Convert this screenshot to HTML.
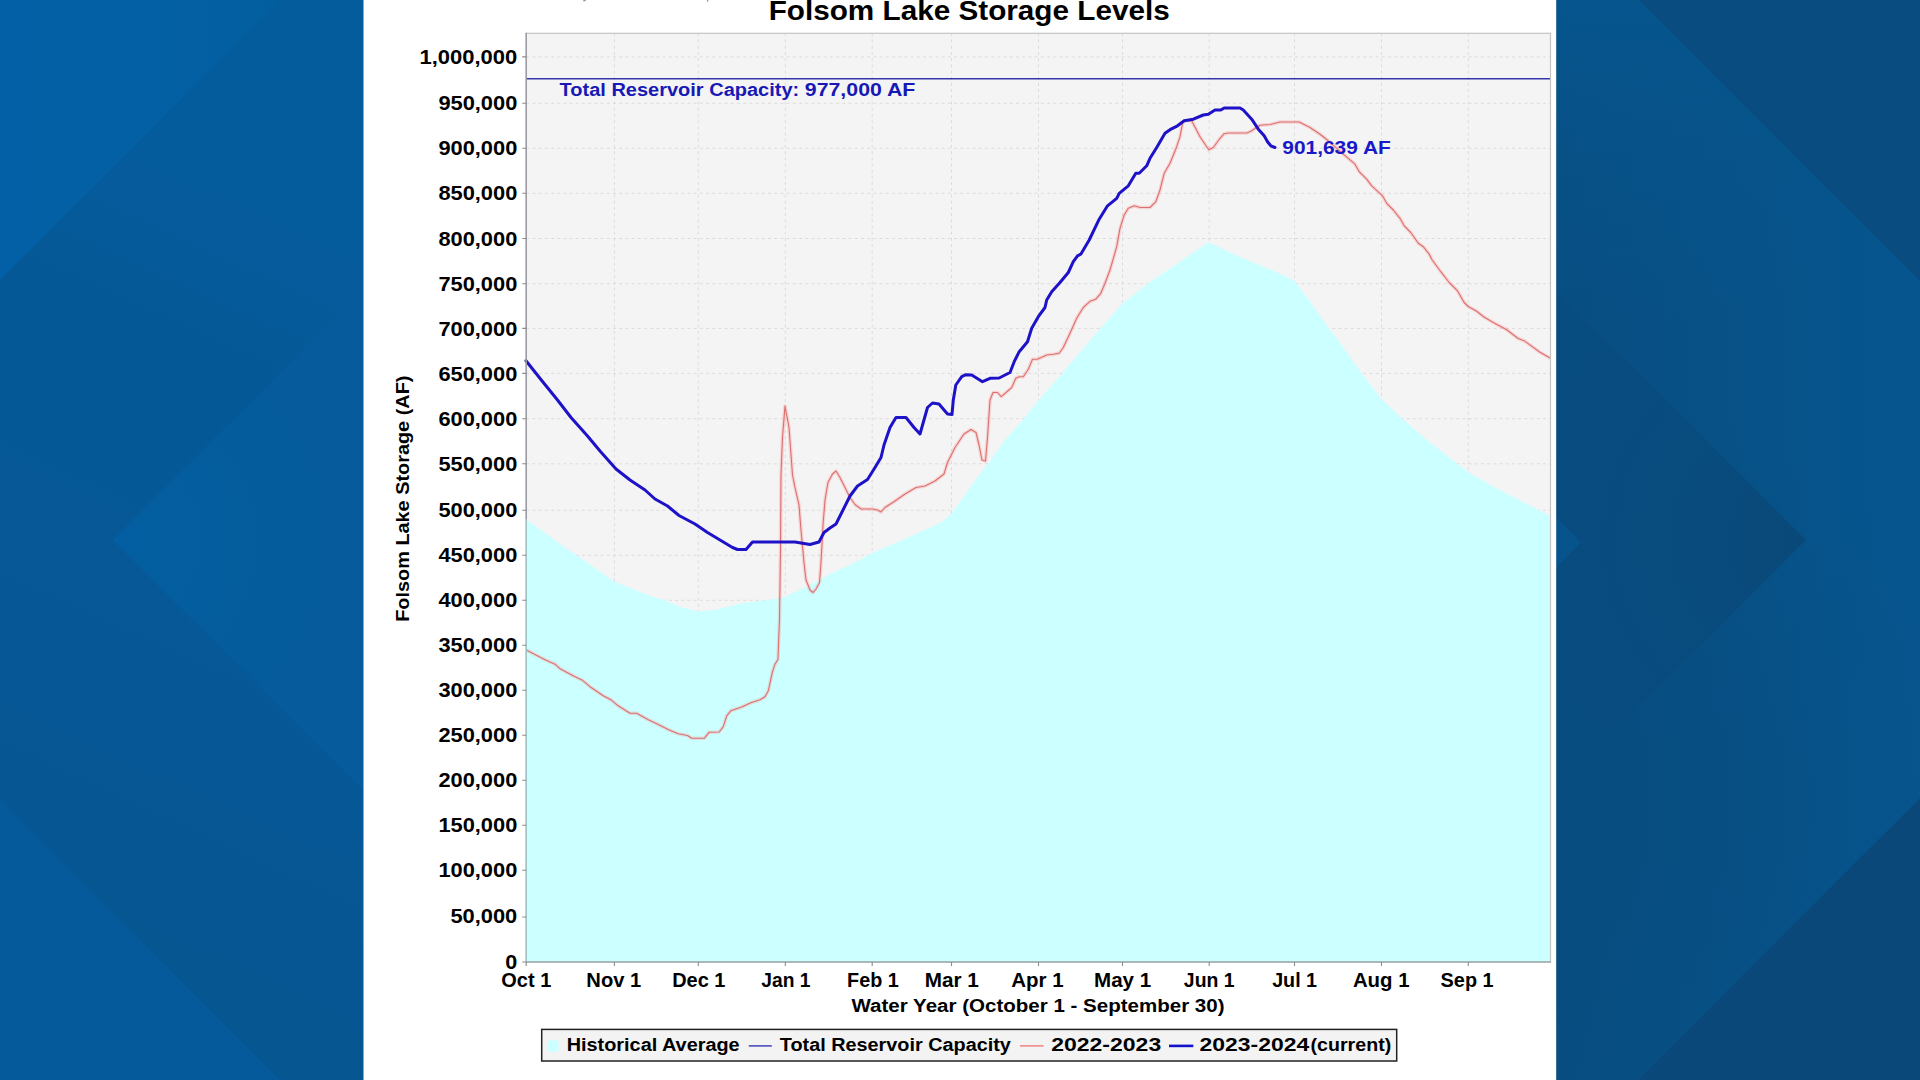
<!DOCTYPE html>
<html lang="en">
<head>
<meta charset="utf-8">
<title>Folsom Lake Storage Levels</title>
<style>
html,body{margin:0;padding:0;width:1920px;height:1080px;overflow:hidden;background:#07568f;}
svg{display:block;position:absolute;left:0;top:0;}
text{font-family:"Liberation Sans",sans-serif;font-weight:bold;fill:#000;}
.ser{font-family:"Liberation Sans",sans-serif;}
</style>
</head>
<body>
<svg width="1920" height="1080" viewBox="0 0 1920 1080">
<defs>
<linearGradient id="gl" x1="0" y1="0" x2="1" y2="0"><stop offset="0" stop-color="#0561a6"/><stop offset="1" stop-color="#065c9e"/></linearGradient>
<linearGradient id="gr" x1="0" y1="0" x2="1" y2="0"><stop offset="0" stop-color="#07558f"/><stop offset="1" stop-color="#08568f"/></linearGradient>
<clipPath id="pc"><rect x="526.2" y="33.3" width="1024.3" height="928.7"/></clipPath>
</defs>

<defs>
<linearGradient id="lbase" gradientUnits="userSpaceOnUse" x1="0" y1="0" x2="280" y2="0"><stop offset="0" stop-color="#0360a6"/><stop offset="0.5" stop-color="#0360a4"/><stop offset="1" stop-color="#035e9f"/></linearGradient>
<linearGradient id="lband" gradientUnits="userSpaceOnUse" x1="364" y1="100" x2="0" y2="900"><stop offset="0" stop-color="#045c9d"/><stop offset="0.22" stop-color="#055b9b"/><stop offset="0.30" stop-color="#055997"/><stop offset="0.36" stop-color="#055896"/><stop offset="0.6" stop-color="#065897"/><stop offset="1" stop-color="#065692"/></linearGradient>
<radialGradient id="lchev" gradientUnits="userSpaceOnUse" cx="113" cy="540" r="330"><stop offset="0" stop-color="#035fa2"/><stop offset="0.3" stop-color="#045d9e"/><stop offset="0.7" stop-color="#055b9b"/><stop offset="1" stop-color="#055b9b"/></radialGradient>
<linearGradient id="rbase" gradientUnits="userSpaceOnUse" x1="1556" y1="0" x2="1920" y2="0"><stop offset="0" stop-color="#084e82"/><stop offset="0.56" stop-color="#075288"/><stop offset="0.8" stop-color="#06548d"/><stop offset="1" stop-color="#07558f"/></linearGradient>
<linearGradient id="rlight" gradientUnits="userSpaceOnUse" x1="0" y1="0" x2="0" y2="330"><stop offset="0" stop-color="#06558e" stop-opacity="0.95"/><stop offset="0.5" stop-color="#06548c" stop-opacity="0.45"/><stop offset="1" stop-color="#06548c" stop-opacity="0"/></linearGradient>
<radialGradient id="rshade" gradientUnits="userSpaceOnUse" cx="1600" cy="800" r="400"><stop offset="0" stop-color="#084a7a" stop-opacity="0.4"/><stop offset="0.4" stop-color="#084a7a" stop-opacity="0.24"/><stop offset="0.75" stop-color="#084a7a" stop-opacity="0.1"/><stop offset="1" stop-color="#084a7a" stop-opacity="0"/></radialGradient>
<radialGradient id="rchev" gradientUnits="userSpaceOnUse" cx="1806" cy="540" r="360"><stop offset="0" stop-color="#094979"/><stop offset="0.55" stop-color="#084c7f"/><stop offset="1" stop-color="#084d81"/></radialGradient>
</defs>
<!-- background left -->
<rect x="0" y="0" width="364" height="540" fill="url(#lbase)"/>
<rect x="0" y="540" width="364" height="540" fill="#045a9a"/>
<polygon points="280,0 364,0 364,1080 280,1080 0,800 0,280" fill="url(#lband)"/>
<polygon points="364,289 113,540 364,791" fill="url(#lchev)"/>
<!-- background right -->
<rect x="1556" y="0" width="364" height="1080" fill="url(#rbase)"/>
<rect x="1556" y="0" width="364" height="330" fill="url(#rlight)"/>
<rect x="1556" y="380" width="364" height="700" fill="url(#rshade)"/>
<polygon points="1556,290 1806,540 1556,790" fill="url(#rchev)"/>
<polygon points="1556,517 1581,542.5 1556,568" fill="#07538c"/>
<polygon points="1639,0 1920,0 1920,281" fill="#084c80"/>
<polygon points="1920,798 1920,1080 1638,1080" fill="#094878"/>
<rect x="363.5" y="0" width="1192.7" height="1080" fill="#ffffff"/>
<path d="M584,0v1.6M585.2,0v1M707.6,0v1.8" stroke="#9a9a9a" stroke-width="1.4" fill="none"/>
<rect x="526.2" y="33.3" width="1024.3" height="928.7" fill="#f4f4f4"/>
<polygon points="526.2,519.5 545.9,533.7 565.4,548.0 577.1,555.8 597.8,570.0 614.4,581.7 636.7,590.8 649.7,596.0 665.3,600.5 682.1,607.7 698.3,611.5 714.6,610.2 740.0,603.8 775.6,599.0 785.3,597.0 806.7,586.7 828.9,574.8 851.1,564.4 864.4,557.8 872.5,553.0 901.7,540.6 929.4,528.2 943.0,521.5 951.5,513.5 965.9,493.7 978.9,475.6 988.0,463.9 1004.8,440.6 1024.3,418.5 1038.5,400.6 1061.8,373.9 1099.7,329.2 1122.1,303.9 1148.3,283.5 1175.6,265.0 1195.0,251.4 1208.8,242.5 1238.9,256.8 1277.8,272.8 1294.5,281.0 1308.9,300.3 1328.3,327.6 1347.8,354.0 1360.4,372.0 1381.4,399.0 1401.3,418.0 1425.6,439.0 1456.1,463.0 1468.6,472.4 1495.0,487.8 1522.8,502.0 1536.7,509.2 1550.5,516.8 1550.5,962.0 526.2,962.0" fill="#ccffff"/>
<path d="M614.4,33.3V962.0M698.3,33.3V962.0M785.3,33.3V962.0M872.2,33.3V962.0M951.5,33.3V962.0M1038.5,33.3V962.0M1122.5,33.3V962.0M1209.2,33.3V962.0M1294.5,33.3V962.0M1381.5,33.3V962.0M1468.3,33.3V962.0M526.2,917.0H1550.5M526.2,870.3H1550.5M526.2,825.3H1550.5M526.2,780.3H1550.5M526.2,735.3H1550.5M526.2,690.3H1550.5M526.2,645.3H1550.5M526.2,600.3H1550.5M526.2,555.3H1550.5M526.2,510.3H1550.5M526.2,463.8H1550.5M526.2,418.7H1550.5M526.2,373.4H1550.5M526.2,328.4H1550.5M526.2,283.7H1550.5M526.2,238.5H1550.5M526.2,193.3H1550.5M526.2,148.3H1550.5M526.2,103.3H1550.5M526.2,56.9H1550.5" fill="none" stroke="#dcdcdc" stroke-width="1" stroke-dasharray="3,3.2"/>
<polygon points="526.2,519.5 545.9,533.7 565.4,548.0 577.1,555.8 597.8,570.0 614.4,581.7 636.7,590.8 649.7,596.0 665.3,600.5 682.1,607.7 698.3,611.5 714.6,610.2 740.0,603.8 775.6,599.0 785.3,597.0 806.7,586.7 828.9,574.8 851.1,564.4 864.4,557.8 872.5,553.0 901.7,540.6 929.4,528.2 943.0,521.5 951.5,513.5 965.9,493.7 978.9,475.6 988.0,463.9 1004.8,440.6 1024.3,418.5 1038.5,400.6 1061.8,373.9 1099.7,329.2 1122.1,303.9 1148.3,283.5 1175.6,265.0 1195.0,251.4 1208.8,242.5 1238.9,256.8 1277.8,272.8 1294.5,281.0 1308.9,300.3 1328.3,327.6 1347.8,354.0 1360.4,372.0 1381.4,399.0 1401.3,418.0 1425.6,439.0 1456.1,463.0 1468.6,472.4 1495.0,487.8 1522.8,502.0 1536.7,509.2 1550.5,516.8 1550.5,962.0 526.2,962.0" fill="#ccffff"/>
<line x1="526.2" y1="78.8" x2="1550.5" y2="78.8" stroke="#3636aa" stroke-width="1.4"/>
<polyline points="526.3,650.0 545.0,659.7 555.0,664.2 560.0,668.7 575.0,676.7 582.5,680.3 590.0,686.7 603.3,695.8 610.8,699.7 616.7,704.7 630.0,713.3 636.7,713.3 648.3,719.7 656.7,723.7 669.2,730.0 678.3,733.8 687.5,735.5 691.7,738.3 704.2,738.3 709.2,732.2 719.2,732.0 723.3,726.7 726.7,715.8 730.8,710.8 741.7,707.0 750.8,702.8 760.0,699.7 765.0,696.7 768.3,690.8 772.5,671.7 775.0,664.2 778.0,659.2 778.8,636.7 779.5,620.0 780.5,550.0 781.0,475.0 782.5,437.5 785.0,406.0 789.0,427.5 792.5,475.0 795.0,487.5 799.0,505.0 801.0,530.0 804.0,562.5 806.0,580.0 810.0,590.0 813.0,592.5 816.0,589.0 819.5,582.5 821.0,562.5 823.0,525.0 825.0,500.0 828.0,482.5 832.5,474.0 836.0,471.0 840.0,477.5 845.0,487.5 850.0,497.5 855.0,504.5 861.0,509.0 872.5,509.0 877.5,510.0 881.0,512.0 885.0,507.5 895.0,501.0 905.0,494.0 916.0,487.5 925.0,486.0 935.0,481.0 944.0,474.0 947.5,462.5 955.0,447.5 964.0,434.0 971.0,429.5 976.0,432.5 979.0,445.0 982.0,460.0 985.5,461.0 987.5,437.5 989.0,415.0 990.0,400.0 993.0,392.5 997.5,392.5 1001.3,396.7 1011.7,387.5 1015.8,378.3 1019.2,376.7 1023.3,376.7 1028.3,369.2 1032.5,359.2 1037.5,359.2 1046.7,355.0 1053.3,354.2 1059.2,353.3 1063.3,347.5 1069.2,335.0 1076.7,318.3 1083.3,307.5 1090.0,301.3 1095.8,299.2 1100.8,293.3 1105.0,283.3 1110.0,270.0 1116.7,246.7 1120.0,228.3 1124.2,215.0 1128.3,208.3 1134.2,205.8 1140.0,207.5 1150.0,207.5 1155.8,201.7 1160.0,190.0 1164.2,173.3 1170.0,163.3 1176.7,146.7 1180.0,136.7 1182.5,123.3 1184.2,120.8 1191.7,120.8 1200.0,136.7 1208.8,149.7 1213.3,147.5 1220.0,138.3 1224.2,133.7 1228.3,133.0 1246.7,133.0 1250.8,131.3 1260.0,125.3 1270.0,124.5 1280.0,122.0 1299.2,122.0 1310.0,127.5 1320.0,134.2 1328.3,140.8 1343.3,154.2 1355.0,164.2 1359.2,171.7 1366.7,179.2 1371.7,185.8 1382.5,195.8 1386.7,203.3 1393.3,210.0 1400.0,218.3 1404.2,225.8 1410.8,232.5 1418.3,243.3 1423.3,246.7 1429.2,254.2 1431.7,259.2 1440.8,271.7 1449.2,282.5 1457.5,290.8 1460.8,296.7 1464.2,302.5 1468.3,306.5 1476.7,311.3 1484.4,317.3 1493.3,322.5 1501.1,326.7 1506.7,329.7 1517.8,338.3 1524.7,341.1 1540.0,352.2 1550.5,358.3" fill="none" stroke="#ff8a8a" stroke-opacity="0.3" stroke-width="3.6" stroke-linejoin="round" clip-path="url(#pc)"/>
<polyline points="526.3,650.0 545.0,659.7 555.0,664.2 560.0,668.7 575.0,676.7 582.5,680.3 590.0,686.7 603.3,695.8 610.8,699.7 616.7,704.7 630.0,713.3 636.7,713.3 648.3,719.7 656.7,723.7 669.2,730.0 678.3,733.8 687.5,735.5 691.7,738.3 704.2,738.3 709.2,732.2 719.2,732.0 723.3,726.7 726.7,715.8 730.8,710.8 741.7,707.0 750.8,702.8 760.0,699.7 765.0,696.7 768.3,690.8 772.5,671.7 775.0,664.2 778.0,659.2 778.8,636.7 779.5,620.0 780.5,550.0 781.0,475.0 782.5,437.5 785.0,406.0 789.0,427.5 792.5,475.0 795.0,487.5 799.0,505.0 801.0,530.0 804.0,562.5 806.0,580.0 810.0,590.0 813.0,592.5 816.0,589.0 819.5,582.5 821.0,562.5 823.0,525.0 825.0,500.0 828.0,482.5 832.5,474.0 836.0,471.0 840.0,477.5 845.0,487.5 850.0,497.5 855.0,504.5 861.0,509.0 872.5,509.0 877.5,510.0 881.0,512.0 885.0,507.5 895.0,501.0 905.0,494.0 916.0,487.5 925.0,486.0 935.0,481.0 944.0,474.0 947.5,462.5 955.0,447.5 964.0,434.0 971.0,429.5 976.0,432.5 979.0,445.0 982.0,460.0 985.5,461.0 987.5,437.5 989.0,415.0 990.0,400.0 993.0,392.5 997.5,392.5 1001.3,396.7 1011.7,387.5 1015.8,378.3 1019.2,376.7 1023.3,376.7 1028.3,369.2 1032.5,359.2 1037.5,359.2 1046.7,355.0 1053.3,354.2 1059.2,353.3 1063.3,347.5 1069.2,335.0 1076.7,318.3 1083.3,307.5 1090.0,301.3 1095.8,299.2 1100.8,293.3 1105.0,283.3 1110.0,270.0 1116.7,246.7 1120.0,228.3 1124.2,215.0 1128.3,208.3 1134.2,205.8 1140.0,207.5 1150.0,207.5 1155.8,201.7 1160.0,190.0 1164.2,173.3 1170.0,163.3 1176.7,146.7 1180.0,136.7 1182.5,123.3 1184.2,120.8 1191.7,120.8 1200.0,136.7 1208.8,149.7 1213.3,147.5 1220.0,138.3 1224.2,133.7 1228.3,133.0 1246.7,133.0 1250.8,131.3 1260.0,125.3 1270.0,124.5 1280.0,122.0 1299.2,122.0 1310.0,127.5 1320.0,134.2 1328.3,140.8 1343.3,154.2 1355.0,164.2 1359.2,171.7 1366.7,179.2 1371.7,185.8 1382.5,195.8 1386.7,203.3 1393.3,210.0 1400.0,218.3 1404.2,225.8 1410.8,232.5 1418.3,243.3 1423.3,246.7 1429.2,254.2 1431.7,259.2 1440.8,271.7 1449.2,282.5 1457.5,290.8 1460.8,296.7 1464.2,302.5 1468.3,306.5 1476.7,311.3 1484.4,317.3 1493.3,322.5 1501.1,326.7 1506.7,329.7 1517.8,338.3 1524.7,341.1 1540.0,352.2 1550.5,358.3" fill="none" stroke="#dc7070" stroke-width="1.1" stroke-linejoin="round" clip-path="url(#pc)"/>
<polyline points="526.0,360.7 541.7,380.5 557.5,400.0 571.0,417.5 587.5,436.0 600.0,451.0 616.0,469.0 630.0,480.0 645.0,490.0 655.0,499.0 667.5,506.0 679.0,515.5 695.0,524.0 707.5,532.5 720.0,540.0 732.5,547.5 737.5,549.5 746.0,549.5 752.5,542.0 795.0,542.0 801.0,543.0 810.0,544.5 819.0,542.0 824.0,532.5 830.0,528.0 836.0,524.0 842.5,511.0 850.0,496.0 857.5,486.0 867.5,479.5 875.0,467.5 881.0,457.5 884.0,445.0 890.0,427.5 896.0,417.5 906.0,417.5 914.0,427.5 920.0,434.0 927.5,407.5 932.5,403.0 939.0,404.0 947.5,414.0 952.0,414.5 953.3,400.0 955.8,385.0 961.7,376.7 965.8,374.7 971.7,375.0 982.5,381.7 990.0,378.3 999.2,378.0 1010.0,372.5 1014.2,361.7 1019.2,351.7 1027.5,341.7 1031.7,328.3 1038.3,316.7 1045.0,307.5 1046.7,300.0 1051.7,291.7 1060.0,282.5 1068.3,272.5 1073.3,261.7 1077.5,255.8 1080.8,254.2 1089.2,240.0 1099.2,219.2 1107.5,205.8 1116.7,198.3 1119.2,193.3 1128.3,185.8 1135.8,173.3 1139.2,173.3 1146.7,165.8 1150.0,158.3 1156.7,147.5 1162.5,137.5 1165.0,133.3 1170.0,129.7 1177.5,125.8 1184.2,120.8 1193.3,119.2 1203.3,115.0 1208.3,114.2 1215.0,110.0 1220.8,110.0 1224.2,108.0 1240.0,108.0 1243.3,110.0 1251.7,119.2 1258.3,129.2 1264.2,135.8 1267.5,141.7 1270.8,145.8 1275.0,147.5" fill="none" stroke="#1e12c8" stroke-width="3.0" stroke-linejoin="round" stroke-linecap="round"/>
<rect x="526.2" y="33.3" width="1024.3" height="928.7" fill="none" stroke="#c4c4c4" stroke-width="1.2"/>
<path d="M526.2,32.8V519.5" fill="none" stroke="#8e8e98" stroke-width="1.2"/>
<path d="M526.2,519.5V962.0" fill="none" stroke="#9cc2c4" stroke-width="1.4"/>
<path d="M525.6,962.0H1551.0" fill="none" stroke="#869696" stroke-width="1.2"/>
<path d="M526.2,962.0v4M614.4,962.0v4M698.3,962.0v4M785.3,962.0v4M872.2,962.0v4M951.5,962.0v4M1038.5,962.0v4M1122.5,962.0v4M1209.2,962.0v4M1294.5,962.0v4M1381.5,962.0v4M1468.3,962.0v4M522.2,962.0h4M522.2,917.0h4M522.2,870.3h4M522.2,825.3h4M522.2,780.3h4M522.2,735.3h4M522.2,690.3h4M522.2,645.3h4M522.2,600.3h4M522.2,555.3h4M522.2,510.3h4M522.2,463.8h4M522.2,418.7h4M522.2,373.4h4M522.2,328.4h4M522.2,283.7h4M522.2,238.5h4M522.2,193.3h4M522.2,148.3h4M522.2,103.3h4M522.2,56.9h4" fill="none" stroke="#8c8c8c" stroke-width="1.1"/>
<text x="969.2" y="20.3" text-anchor="middle" font-size="26.9" textLength="401" lengthAdjust="spacingAndGlyphs">Folsom Lake Storage Levels</text>
<text x="517.3" y="969.1" text-anchor="end" font-size="19.8" textLength="12.0" lengthAdjust="spacingAndGlyphs">0</text>
<text x="517.3" y="922.9" text-anchor="end" font-size="19.8" textLength="66.9" lengthAdjust="spacingAndGlyphs">50,000</text>
<text x="517.3" y="877.4" text-anchor="end" font-size="19.8" textLength="78.9" lengthAdjust="spacingAndGlyphs">100,000</text>
<text x="517.3" y="832.4" text-anchor="end" font-size="19.8" textLength="78.9" lengthAdjust="spacingAndGlyphs">150,000</text>
<text x="517.3" y="787.4" text-anchor="end" font-size="19.8" textLength="78.9" lengthAdjust="spacingAndGlyphs">200,000</text>
<text x="517.3" y="742.4" text-anchor="end" font-size="19.8" textLength="78.9" lengthAdjust="spacingAndGlyphs">250,000</text>
<text x="517.3" y="697.4" text-anchor="end" font-size="19.8" textLength="78.9" lengthAdjust="spacingAndGlyphs">300,000</text>
<text x="517.3" y="652.4" text-anchor="end" font-size="19.8" textLength="78.9" lengthAdjust="spacingAndGlyphs">350,000</text>
<text x="517.3" y="607.4" text-anchor="end" font-size="19.8" textLength="78.9" lengthAdjust="spacingAndGlyphs">400,000</text>
<text x="517.3" y="562.4" text-anchor="end" font-size="19.8" textLength="78.9" lengthAdjust="spacingAndGlyphs">450,000</text>
<text x="517.3" y="517.4" text-anchor="end" font-size="19.8" textLength="78.9" lengthAdjust="spacingAndGlyphs">500,000</text>
<text x="517.3" y="470.9" text-anchor="end" font-size="19.8" textLength="78.9" lengthAdjust="spacingAndGlyphs">550,000</text>
<text x="517.3" y="425.8" text-anchor="end" font-size="19.8" textLength="78.9" lengthAdjust="spacingAndGlyphs">600,000</text>
<text x="517.3" y="380.5" text-anchor="end" font-size="19.8" textLength="78.9" lengthAdjust="spacingAndGlyphs">650,000</text>
<text x="517.3" y="335.5" text-anchor="end" font-size="19.8" textLength="78.9" lengthAdjust="spacingAndGlyphs">700,000</text>
<text x="517.3" y="290.8" text-anchor="end" font-size="19.8" textLength="78.9" lengthAdjust="spacingAndGlyphs">750,000</text>
<text x="517.3" y="245.6" text-anchor="end" font-size="19.8" textLength="78.9" lengthAdjust="spacingAndGlyphs">800,000</text>
<text x="517.3" y="200.4" text-anchor="end" font-size="19.8" textLength="78.9" lengthAdjust="spacingAndGlyphs">850,000</text>
<text x="517.3" y="155.4" text-anchor="end" font-size="19.8" textLength="78.9" lengthAdjust="spacingAndGlyphs">900,000</text>
<text x="517.3" y="110.4" text-anchor="end" font-size="19.8" textLength="78.9" lengthAdjust="spacingAndGlyphs">950,000</text>
<text x="517.3" y="64.0" text-anchor="end" font-size="19.8" textLength="97.8" lengthAdjust="spacingAndGlyphs">1,000,000</text>
<text x="526.3" y="986.5" text-anchor="middle" font-size="19.3" textLength="49.9" lengthAdjust="spacingAndGlyphs">Oct 1</text>
<text x="613.8" y="986.5" text-anchor="middle" font-size="19.3" textLength="54.9" lengthAdjust="spacingAndGlyphs">Nov 1</text>
<text x="698.8" y="986.5" text-anchor="middle" font-size="19.3" textLength="53.3" lengthAdjust="spacingAndGlyphs">Dec 1</text>
<text x="785.9" y="986.5" text-anchor="middle" font-size="19.3" textLength="49.1" lengthAdjust="spacingAndGlyphs">Jan 1</text>
<text x="872.9" y="986.5" text-anchor="middle" font-size="19.3" textLength="51.6" lengthAdjust="spacingAndGlyphs">Feb 1</text>
<text x="951.7" y="986.5" text-anchor="middle" font-size="19.3" textLength="54.1" lengthAdjust="spacingAndGlyphs">Mar 1</text>
<text x="1037.5" y="986.5" text-anchor="middle" font-size="19.3" textLength="52.4" lengthAdjust="spacingAndGlyphs">Apr 1</text>
<text x="1122.6" y="986.5" text-anchor="middle" font-size="19.3" textLength="57.2" lengthAdjust="spacingAndGlyphs">May 1</text>
<text x="1209.2" y="986.5" text-anchor="middle" font-size="19.3" textLength="50.7" lengthAdjust="spacingAndGlyphs">Jun 1</text>
<text x="1294.6" y="986.5" text-anchor="middle" font-size="19.3" textLength="44.9" lengthAdjust="spacingAndGlyphs">Jul 1</text>
<text x="1381.2" y="986.5" text-anchor="middle" font-size="19.3" textLength="56.6" lengthAdjust="spacingAndGlyphs">Aug 1</text>
<text x="1467.1" y="986.5" text-anchor="middle" font-size="19.3" textLength="53.0" lengthAdjust="spacingAndGlyphs">Sep 1</text>
<text x="1038" y="1011.9" text-anchor="middle" font-size="17.5" textLength="373" lengthAdjust="spacingAndGlyphs">Water Year (October 1 - September 30)</text>
<text transform="translate(409,498.7) rotate(-90)" text-anchor="middle" font-size="17.5" textLength="246.2" lengthAdjust="spacingAndGlyphs">Folsom Lake Storage (AF)</text>
<text x="559.6" y="96.2" font-size="18" style="fill:#1818b4" textLength="239.6" lengthAdjust="spacingAndGlyphs">Total Reservoir Capacity:</text>
<text x="804.8" y="96.2" font-size="18" style="fill:#1818b4" textLength="110.6" lengthAdjust="spacingAndGlyphs">977,000 AF</text>
<text x="1282.3" y="154.0" font-size="18" style="fill:#1818c8" textLength="108.5" lengthAdjust="spacingAndGlyphs">901,639 AF</text>
<rect x="541.7" y="1029.4" width="855" height="31.6" fill="#f3f3f3" stroke="#222222" stroke-width="1.5"/>
<rect x="547.5" y="1040.5" width="11" height="11" fill="#ccffff"/>
<text x="566.7" y="1050.9" font-size="18" textLength="173" lengthAdjust="spacingAndGlyphs">Historical Average</text>
<line x1="748.8" y1="1045.9" x2="771.8" y2="1045.9" stroke="#3434b8" stroke-width="1.4"/>
<text x="779.8" y="1050.9" font-size="18" textLength="231.1" lengthAdjust="spacingAndGlyphs">Total Reservoir Capacity</text>
<line x1="1020" y1="1045.9" x2="1043.6" y2="1045.9" stroke="#f07070" stroke-width="1.3"/>
<text x="1051.2" y="1050.9" font-size="18" textLength="110" lengthAdjust="spacingAndGlyphs">2022-2023</text>
<line x1="1169" y1="1045.9" x2="1193.3" y2="1045.9" stroke="#1212cc" stroke-width="2.6"/>
<text x="1199.6" y="1050.9" font-size="18" textLength="109.6" lengthAdjust="spacingAndGlyphs">2023-2024</text>
<text x="1310.6" y="1050.9" font-size="18" textLength="80.6" lengthAdjust="spacingAndGlyphs">(current)</text>
</svg>
</body>
</html>
